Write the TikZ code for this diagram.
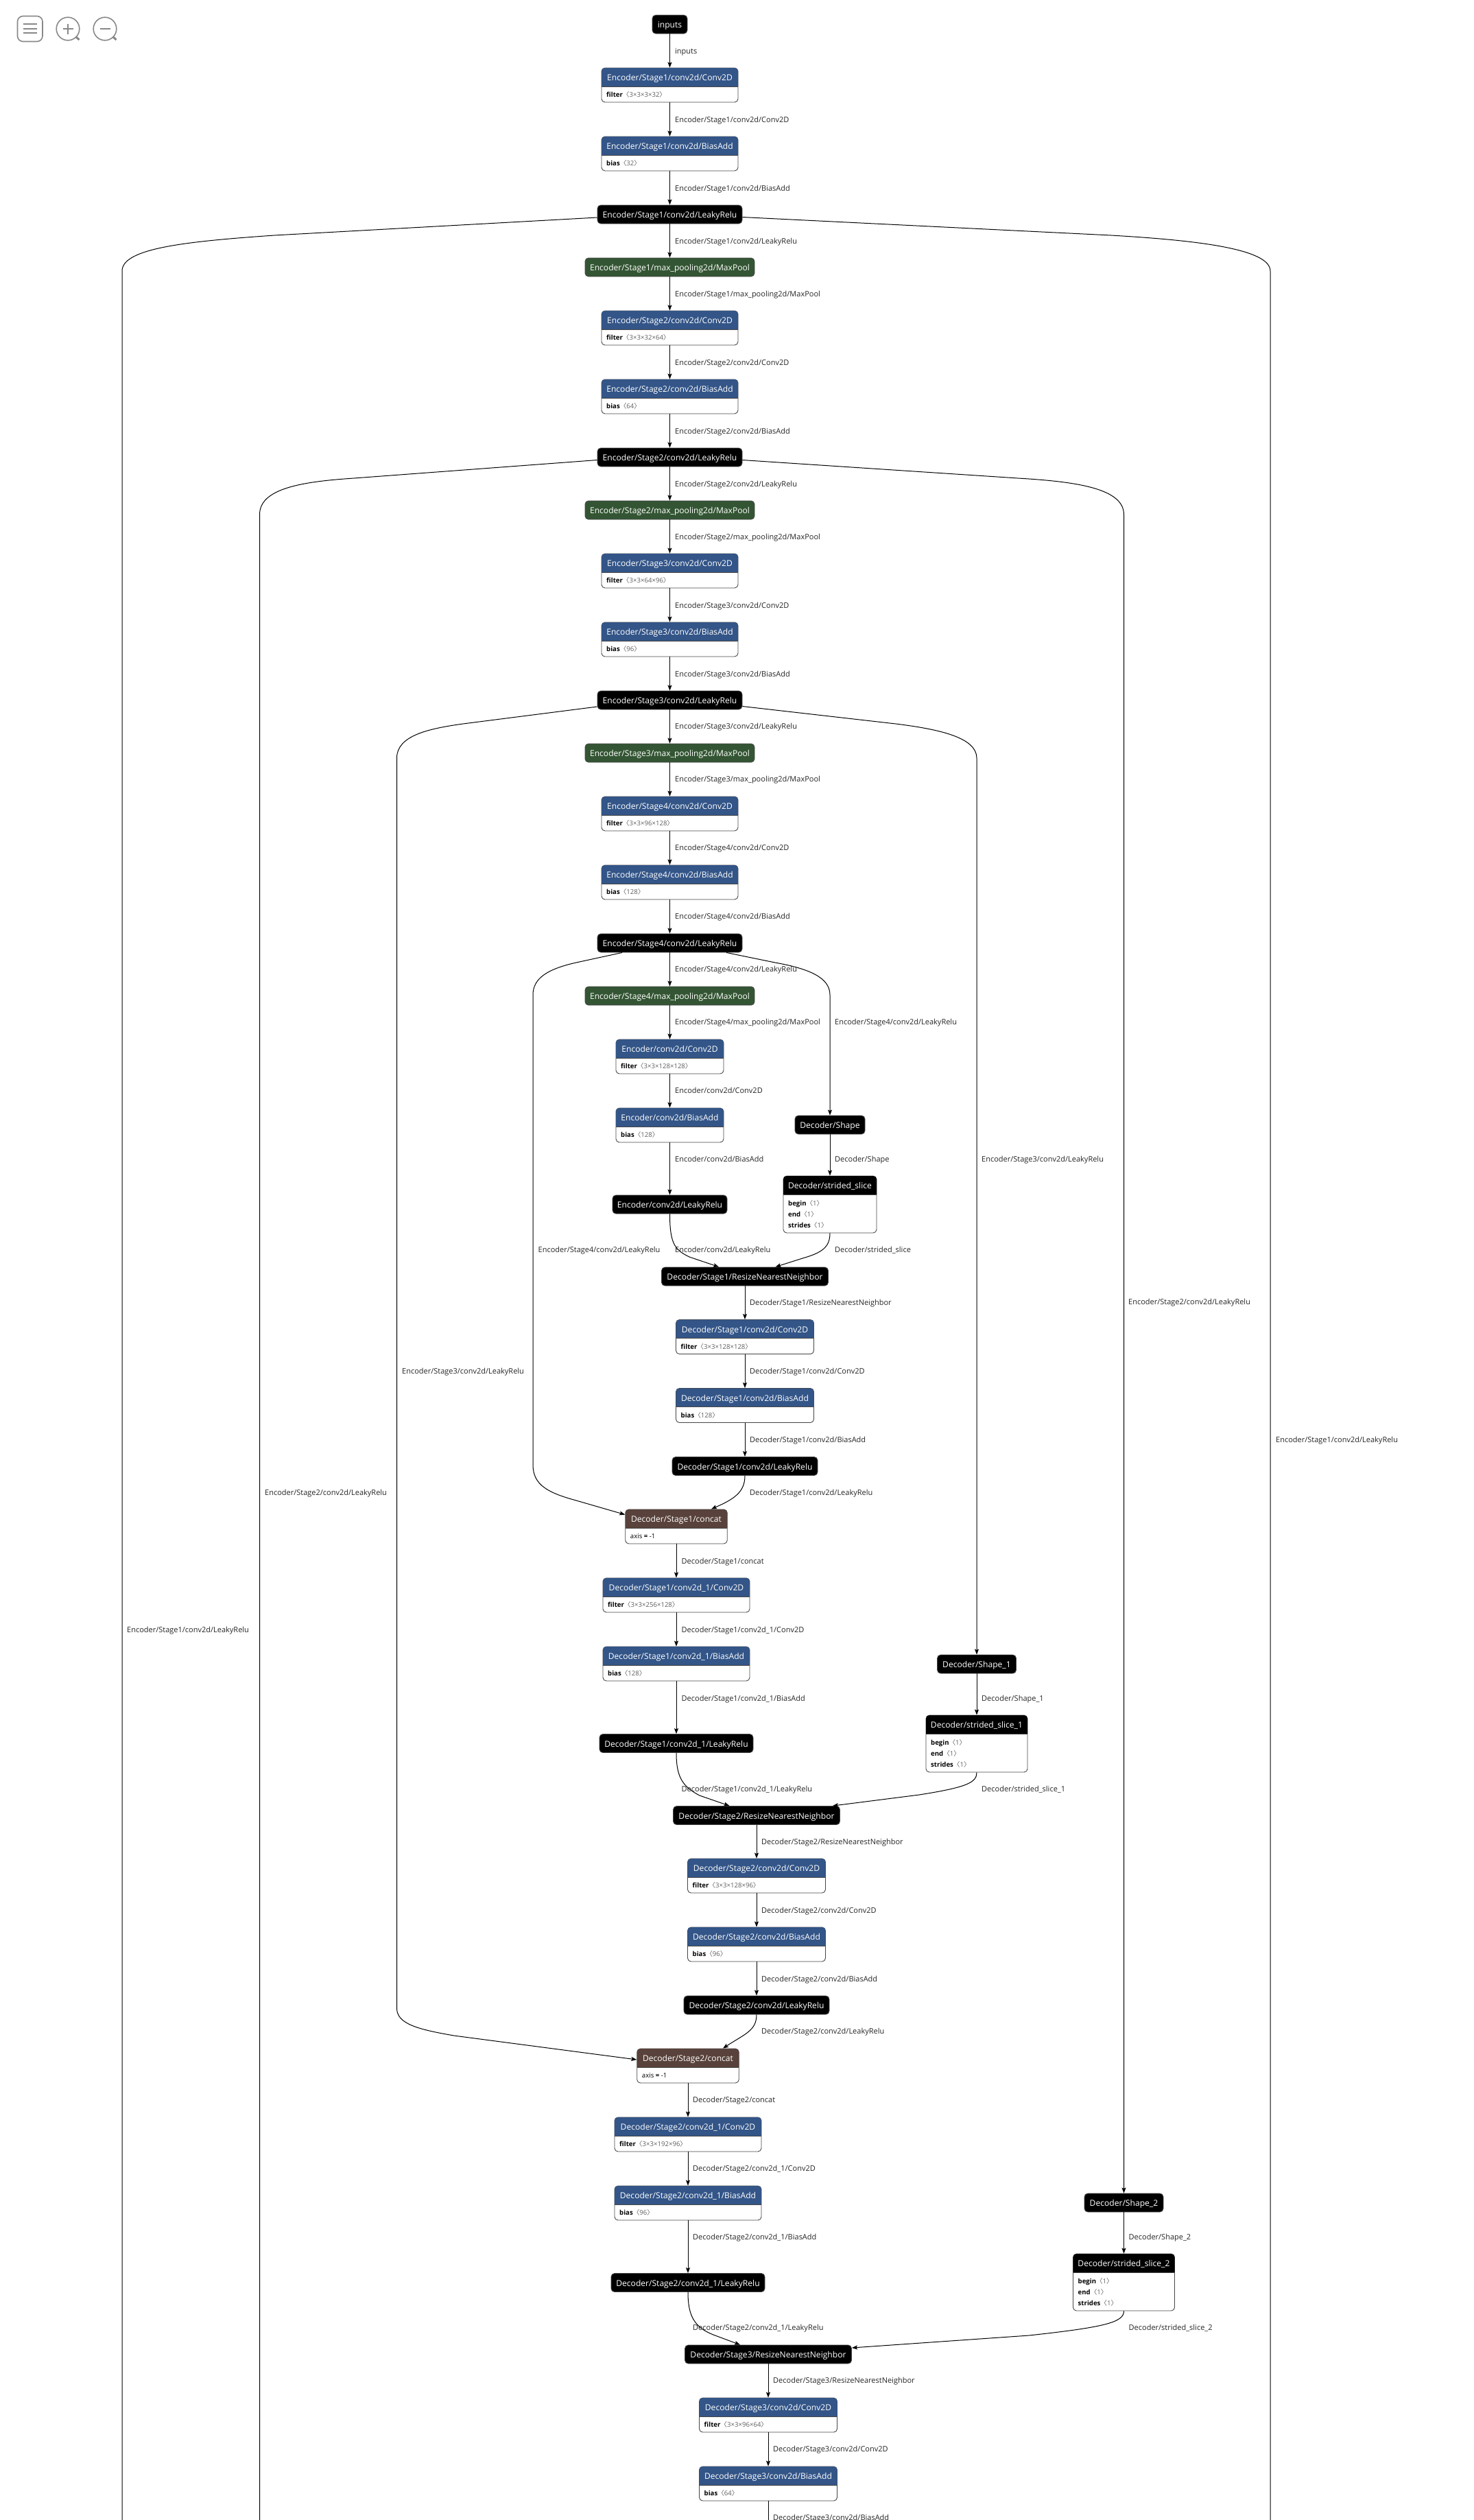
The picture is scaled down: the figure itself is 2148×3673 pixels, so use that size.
\documentclass[tikz,border=0pt]{standalone}
\usepackage{fontspec}
\setmainfont{Open Sans}
\newfontfamily\cjkbr{Noto Sans CJK SC}
\usetikzlibrary{arrows.meta}
\definecolor{layerblue}{RGB}{51,85,136}
\definecolor{poolgreen}{RGB}{51,85,51}
\definecolor{tensorbrown}{RGB}{89,66,59}
\definecolor{outlinegrey}{RGB}{70,70,70}
\definecolor{attrgrey}{RGB}{95,95,95}
\definecolor{icongrey}{RGB}{136,136,136}
\newcommand{\titlefont}{\fontsize{12.1}{15}\selectfont}
\newcommand{\labelfont}{\fontsize{11}{13}\selectfont}
\newcommand{\attrfont}{\fontsize{9.6}{11}\selectfont}
\tikzset{
  edge/.style={line width=1pt,draw=black,-{Stealth[length=8pt,width=6pt,inset=1.5pt]}},
  longedge/.style={line width=1pt,draw=black},
  lab/.style={anchor=west,inner sep=0pt,text=black!85,font=\labelfont,text height=9pt,text depth=1pt},
  titletext/.style={inner sep=0pt,text=white,font=\titlefont,text height=11pt,text depth=1pt},
  attrtext/.style={anchor=west,inner sep=0pt,text=black,font=\attrfont,text height=8pt,text depth=1pt},
  boxstyle/.style={draw=outlinegrey,line width=0.9pt,rounded corners=5pt,inner sep=0pt},
  icon/.style={draw=icongrey,line width=1.6pt}
}
% plain: name, centre x, width, top y, colour, title
\newcommand{\plainnode}[6]{%
  \node[boxstyle,fill=#5,minimum width={(#3)*1pt},minimum height=27pt,text=white,font=\titlefont,text height=11pt,text depth=1pt] (#1) at (#2,{#4+13.5}) {#6};}
% body: name, centre x, width, top y, body height, colour, title
\newcommand{\bodynode}[7]{%
  \node[boxstyle,fill=white,minimum width={(#3)*1pt},minimum height={(#5)*1pt}] (#1) at (#2,{#4+(#5)/2}) {};
  \fill[#6] ({#2-(#3)/2},{#4+27}) {[rounded corners=5pt] -- ({#2-(#3)/2},#4) -- ({#2+(#3)/2},#4)} -- ({#2+(#3)/2},{#4+27}) -- cycle;
  \draw[outlinegrey,line width=0.9pt] ({#2-(#3)/2},{#4+27}) -- ({#2+(#3)/2},{#4+27});
  \node[titletext] (#1-title) at (#2,{#4+13.5}) {#7};}
% attr: name, x, y, bold name, tensor
\newcommand{\attrrow}[5]{\node[attrtext] (#1) at (#2,#3) {\textbf{#4}{\color{attrgrey}{\cjkbr 〈}#5{\cjkbr 〉}}};}
\newcommand{\lab}[4]{\node[lab] (#1) at (#2,#3) {#4};}
% convolution-style node: name, cx, width, top, title, attr name, tensor
\newcommand{\opnode}[7]{%
  \bodynode{#1}{#2}{#3}{#4}{50}{layerblue}{#5}
  \attrrow{#1-a}{{#2-(#3)/2+7}}{{#4+39}}{#6}{#7}}
% slice node: name, cx, width, top, title
\newcommand{\slicenode}[5]{%
  \bodynode{#1}{#2}{#3}{#4}{83}{black}{#5}
  \attrrow{#1-a}{{#2-(#3)/2+7}}{{#4+39.5}}{begin}{1}
  \attrrow{#1-b}{{#2-(#3)/2+7}}{{#4+55.5}}{end}{1}
  \attrrow{#1-c}{{#2-(#3)/2+7}}{{#4+71.5}}{strides}{1}}
\newcommand{\concatnode}[5]{%
  \bodynode{#1}{#2}{#3}{#4}{50}{tensorbrown}{#5}
  \node[attrtext] (#1-a) at ({#2-(#3)/2+7},{#4+39}) {axis \textbf{=} -1};}
\begin{document}
\begin{tikzpicture}[x=1pt,y=-1pt]
\useasboundingbox (0,0) rectangle (2148,3673);
\fill[white] (0,0) rectangle (2148,3673);
% toolbar
\draw[icon,rounded corners=8pt] (25.5,23.5) rectangle (62,60.5);
\draw[icon] (33.5,35) -- (54,35) (33.5,41.7) -- (54,41.7) (33.5,48) -- (54,48);
\draw[icon] (99,42) circle (16.8);
\draw[icon] (91.5,42) -- (106.5,42) (99,34.5) -- (99,49.5);
\draw[icon,line width=3pt] (110.5,53.5) -- (115.5,58);
\draw[icon] (153,42) circle (16.8);
\draw[icon] (145.5,42) -- (160.5,42);
\draw[icon,line width=3pt] (164.5,53.5) -- (169.5,58);
% encoder nodes
\plainnode{inp}{976.5}{51}{22}{black}{inputs}
\opnode{eaconv}{976.5}{199}{99}{Encoder/Stage1/conv2d/Conv2D}{filter}{3×3×3×32}
\opnode{eabias}{976.5}{199}{199}{Encoder/Stage1/conv2d/BiasAdd}{bias}{32}
\plainnode{ealeaky}{976.5}{211}{299}{black}{Encoder/Stage1/conv2d/LeakyRelu}
\plainnode{eamax}{976.5}{247}{376}{poolgreen}{Encoder/Stage1/max\_pooling2d/MaxPool}
\opnode{ebconv}{976.5}{199}{453}{Encoder/Stage2/conv2d/Conv2D}{filter}{3×3×32×64}
\opnode{ebbias}{976.5}{199}{553}{Encoder/Stage2/conv2d/BiasAdd}{bias}{64}
\plainnode{ebleaky}{976.5}{211}{653}{black}{Encoder/Stage2/conv2d/LeakyRelu}
\plainnode{ebmax}{976.5}{247}{730}{poolgreen}{Encoder/Stage2/max\_pooling2d/MaxPool}
\opnode{ecconv}{976.5}{199}{807}{Encoder/Stage3/conv2d/Conv2D}{filter}{3×3×64×96}
\opnode{ecbias}{976.5}{199}{907}{Encoder/Stage3/conv2d/BiasAdd}{bias}{96}
\plainnode{ecleaky}{976.5}{211}{1007}{black}{Encoder/Stage3/conv2d/LeakyRelu}
\plainnode{ecmax}{976.5}{247}{1084}{poolgreen}{Encoder/Stage3/max\_pooling2d/MaxPool}
\opnode{edconv}{976.5}{199}{1161}{Encoder/Stage4/conv2d/Conv2D}{filter}{3×3×96×128}
\opnode{edbias}{976.5}{199}{1261}{Encoder/Stage4/conv2d/BiasAdd}{bias}{128}
\plainnode{edleaky}{976.5}{211}{1361}{black}{Encoder/Stage4/conv2d/LeakyRelu}
\plainnode{edmax}{976.5}{247}{1438}{poolgreen}{Encoder/Stage4/max\_pooling2d/MaxPool}
\opnode{econv}{976.5}{157}{1515}{Encoder/conv2d/Conv2D}{filter}{3×3×128×128}
\opnode{ebias}{976.5}{157}{1615}{Encoder/conv2d/BiasAdd}{bias}{128}
\plainnode{eleaky}{976.5}{167}{1742}{black}{Encoder/conv2d/LeakyRelu}
% decoder stage 1
\plainnode{dshape}{1210}{102}{1626}{black}{Decoder/Shape}
\slicenode{dslice}{1210}{136}{1714}{Decoder/strided\_slice}
\plainnode{daresize}{1086}{243}{1847}{black}{Decoder/Stage1/ResizeNearestNeighbor}
\opnode{daconv}{1086}{201}{1923.5}{Decoder/Stage1/conv2d/Conv2D}{filter}{3×3×128×128}
\opnode{dabias}{1086}{201}{2023.5}{Decoder/Stage1/conv2d/BiasAdd}{bias}{128}
\plainnode{daleaky}{1086}{212}{2123.5}{black}{Decoder/Stage1/conv2d/LeakyRelu}
\concatnode{daconcat}{986}{148.5}{2200}{Decoder/Stage1/concat}
\opnode{daconvb}{986}{214}{2300}{Decoder/Stage1/conv2d\_1/Conv2D}{filter}{3×3×256×128}
\opnode{dabiasb}{986}{214}{2400}{Decoder/Stage1/conv2d\_1/BiasAdd}{bias}{128}
\plainnode{daleakyb}{986}{224}{2527.5}{black}{Decoder/Stage1/conv2d\_1/LeakyRelu}
\plainnode{dshapea}{1424}{115}{2412}{black}{Decoder/Shape\_1}
\slicenode{dslicea}{1424}{148}{2500}{Decoder/strided\_slice\_1}
% decoder stage 2
\plainnode{dbresize}{1103}{243}{2632.5}{black}{Decoder/Stage2/ResizeNearestNeighbor}
\opnode{dbconv}{1103}{201}{2709}{Decoder/Stage2/conv2d/Conv2D}{filter}{3×3×128×96}
\opnode{dbbias}{1103}{201}{2809}{Decoder/Stage2/conv2d/BiasAdd}{bias}{96}
\plainnode{dbleaky}{1103}{212}{2909}{black}{Decoder/Stage2/conv2d/LeakyRelu}
\concatnode{dbconcat}{1003}{148.5}{2986}{Decoder/Stage2/concat}
\opnode{dbconvb}{1003}{214}{3086}{Decoder/Stage2/conv2d\_1/Conv2D}{filter}{3×3×192×96}
\opnode{dbbiasb}{1003}{214}{3186}{Decoder/Stage2/conv2d\_1/BiasAdd}{bias}{96}
\plainnode{dbleakyb}{1003}{224}{3313.5}{black}{Decoder/Stage2/conv2d\_1/LeakyRelu}
\plainnode{dshapeb}{1638.5}{115}{3197}{black}{Decoder/Shape\_2}
\slicenode{dsliceb}{1638.5}{148}{3285}{Decoder/strided\_slice\_2}
% decoder stage 3
\plainnode{dcresize}{1120}{243}{3418}{black}{Decoder/Stage3/ResizeNearestNeighbor}
\opnode{dcconv}{1120}{201}{3495}{Decoder/Stage3/conv2d/Conv2D}{filter}{3×3×96×64}
\opnode{dcbias}{1120}{201}{3595}{Decoder/Stage3/conv2d/BiasAdd}{bias}{64}
% free ends at the bottom edge of the picture
\coordinate (endla) at (178,3680);
\coordinate (endlb) at (378.5,3680);
\coordinate (endra) at (1852,3680);
\coordinate (endbias) at (1120,3680);
% straight edges
\foreach \a/\b in {inp/eaconv,eaconv/eabias,eabias/ealeaky,ealeaky/eamax,eamax/ebconv,
  ebconv/ebbias,ebbias/ebleaky,ebleaky/ebmax,ebmax/ecconv,
  ecconv/ecbias,ecbias/ecleaky,ecleaky/ecmax,ecmax/edconv,
  edconv/edbias,edbias/edleaky,edleaky/edmax,edmax/econv,
  econv/ebias,ebias/eleaky,dshape/dslice,
  daresize/daconv,daconv/dabias,dabias/daleaky,daconcat/daconvb,daconvb/dabiasb,dabiasb/daleakyb,
  dshapea/dslicea,dbresize/dbconv,dbconv/dbbias,dbbias/dbleaky,dbconcat/dbconvb,dbconvb/dbbiasb,dbbiasb/dbleakyb,
  dshapeb/dsliceb,dcresize/dcconv,dcconv/dcbias}
  {\draw[edge] (\a.south) -- (\b.north);}
\draw[longedge] (dcbias.south) -- (endbias);
% stage 1 skip
\draw[longedge] (ealeaky.west) ++(0,4.5) -- (400,343) .. controls (270,352) and (178,362) .. (178,395) -- (endla);
\draw[longedge] (ealeaky.east) ++(0,4) -- (1620,343) .. controls (1740,350) and (1852,362) .. (1852,395) -- (endra);
% stage 2 skip
\draw[longedge] (ebleaky.west) ++(0,4) -- (516,697) .. controls (440,702) and (378.5,712) .. (378.5,750) -- (endlb);
\draw[edge] (ebleaky.east) ++(0,4) -- (1484,697) .. controls (1570,702) and (1638.5,712) .. (1638.5,750) -- (dshapeb.north);
% stage 3 skip
\draw[edge] (ecleaky.west) ++(0,9.5) -- (675,1055) .. controls (625,1062) and (578.5,1072) .. (578.5,1105) -- (578.5,2927) .. controls (578.5,2950) and (610,2958) .. (662,2967) -- ([yshift=9pt]dbconcat.west);
\draw[edge] (ecleaky.east) ++(0,9) -- (1306,1055) .. controls (1370,1063) and (1424,1075) .. (1424,1105) -- (dshapea.north);
% stage 4 skip
\draw[edge] ([xshift=-69.5pt]edleaky.south) -- (840,1403) .. controls (800,1412) and (777,1425) .. (777,1450) -- (777,2135) .. controls (777,2165) and (800,2176) .. (840,2187) -- ([yshift=17.4pt]daconcat.west);
\draw[edge] ([xshift=82.5pt]edleaky.south) -- (1130,1403) .. controls (1180,1412) and (1210,1425) .. (1210,1450) -- (dshape.north);
% into the resize nodes
\draw[edge] (eleaky.south) .. controls (976.5,1815) and (985,1822) .. (1005,1832) -- ([xshift=-38pt]daresize.north);
\draw[edge] (dslice.south) .. controls (1210,1818) and (1198,1826) .. (1170,1834) -- ([xshift=44.5pt]daresize.north);
\draw[edge] (daleaky.south) .. controls (1086,2175) and (1070,2185) .. ([xshift=51pt]daconcat.north);
\draw[edge] (daleakyb.south) .. controls (986,2590) and (995,2604) .. (1020,2617) -- ([xshift=-39.5pt]dbresize.north);
\draw[edge] (dslicea.south) .. controls (1424,2598) and (1410,2605) .. (1340,2616) -- ([xshift=111pt]dbresize.north);
\draw[edge] (dbleaky.south) .. controls (1103,2960) and (1085,2965) .. ([xshift=51pt]dbconcat.north);
\draw[edge] (dbleakyb.south) .. controls (1003,3375) and (1012,3392) .. (1040,3403) -- ([xshift=-41pt]dcresize.north);
\draw[edge] (dsliceb.south) .. controls (1638.5,3385) and (1610,3392) .. (1500,3404) -- ([yshift=9.5pt]dcresize.east);
% edge labels
\lab{l1}{984}{74}{inputs}
\lab{l2}{984}{174}{Encoder/Stage1/conv2d/Conv2D}
\lab{l3}{984}{274}{Encoder/Stage1/conv2d/BiasAdd}
\lab{l4}{984}{351}{Encoder/Stage1/conv2d/LeakyRelu}
\lab{l5}{984}{428}{Encoder/Stage1/max\_pooling2d/MaxPool}
\lab{l6}{984}{528}{Encoder/Stage2/conv2d/Conv2D}
\lab{l7}{984}{628}{Encoder/Stage2/conv2d/BiasAdd}
\lab{l8}{984}{705}{Encoder/Stage2/conv2d/LeakyRelu}
\lab{l9}{984}{782}{Encoder/Stage2/max\_pooling2d/MaxPool}
\lab{l10}{984}{882}{Encoder/Stage3/conv2d/Conv2D}
\lab{l11}{984}{982}{Encoder/Stage3/conv2d/BiasAdd}
\lab{l12}{984}{1058}{Encoder/Stage3/conv2d/LeakyRelu}
\lab{l13}{984}{1135}{Encoder/Stage3/max\_pooling2d/MaxPool}
\lab{l14}{984}{1235}{Encoder/Stage4/conv2d/Conv2D}
\lab{l15}{984}{1335}{Encoder/Stage4/conv2d/BiasAdd}
\lab{l16}{984}{1412}{Encoder/Stage4/conv2d/LeakyRelu}
\lab{l17}{984}{1489}{Encoder/Stage4/max\_pooling2d/MaxPool}
\lab{l18}{984}{1589}{Encoder/conv2d/Conv2D}
\lab{l19}{984}{1689}{Encoder/conv2d/BiasAdd}
\lab{l20}{984}{1821}{Encoder/conv2d/LeakyRelu}
\lab{l21}{1217}{1489}{Encoder/Stage4/conv2d/LeakyRelu}
\lab{l22}{1217}{1689}{Decoder/Shape}
\lab{l23}{1217}{1821}{Decoder/strided\_slice}
\lab{l24}{784.5}{1821}{Encoder/Stage4/conv2d/LeakyRelu}
\lab{l25}{1093}{1898}{Decoder/Stage1/ResizeNearestNeighbor}
\lab{l26}{1093}{1998}{Decoder/Stage1/conv2d/Conv2D}
\lab{l27}{1093}{2098}{Decoder/Stage1/conv2d/BiasAdd}
\lab{l28}{1093}{2175}{Decoder/Stage1/conv2d/LeakyRelu}
\lab{l29}{993.5}{2275}{Decoder/Stage1/concat}
\lab{l30}{993.5}{2375}{Decoder/Stage1/conv2d\_1/Conv2D}
\lab{l31}{993.5}{2475}{Decoder/Stage1/conv2d\_1/BiasAdd}
\lab{l32}{993.5}{2607}{Decoder/Stage1/conv2d\_1/LeakyRelu}
\lab{l33}{1431}{2475}{Decoder/Shape\_1}
\lab{l34}{1431}{2607}{Decoder/strided\_slice\_1}
\lab{l35}{1431}{1689}{Encoder/Stage3/conv2d/LeakyRelu}
\lab{l36}{586}{1998}{Encoder/Stage3/conv2d/LeakyRelu}
\lab{l37}{1110}{2684}{Decoder/Stage2/ResizeNearestNeighbor}
\lab{l38}{1110}{2784}{Decoder/Stage2/conv2d/Conv2D}
\lab{l39}{1110}{2884}{Decoder/Stage2/conv2d/BiasAdd}
\lab{l40}{1110}{2960}{Decoder/Stage2/conv2d/LeakyRelu}
\lab{l41}{1010}{3060}{Decoder/Stage2/concat}
\lab{l42}{1010}{3160}{Decoder/Stage2/conv2d\_1/Conv2D}
\lab{l43}{1010}{3260}{Decoder/Stage2/conv2d\_1/BiasAdd}
\lab{l44}{1010}{3392}{Decoder/Stage2/conv2d\_1/LeakyRelu}
\lab{l45}{1645.5}{3260}{Decoder/Shape\_2}
\lab{l46}{1645.5}{3392}{Decoder/strided\_slice\_2}
\lab{l47}{1127}{3469.5}{Decoder/Stage3/ResizeNearestNeighbor}
\lab{l48}{1127}{3569}{Decoder/Stage3/conv2d/Conv2D}
\lab{l49}{1127}{3669}{Decoder/Stage3/conv2d/BiasAdd}
\lab{l50}{1645}{1897}{Encoder/Stage2/conv2d/LeakyRelu}
\lab{l51}{386}{2175}{Encoder/Stage2/conv2d/LeakyRelu}
\lab{l52}{1860}{2098}{Encoder/Stage1/conv2d/LeakyRelu}
\lab{l53}{185}{2375}{Encoder/Stage1/conv2d/LeakyRelu}
\end{tikzpicture}
\end{document}
